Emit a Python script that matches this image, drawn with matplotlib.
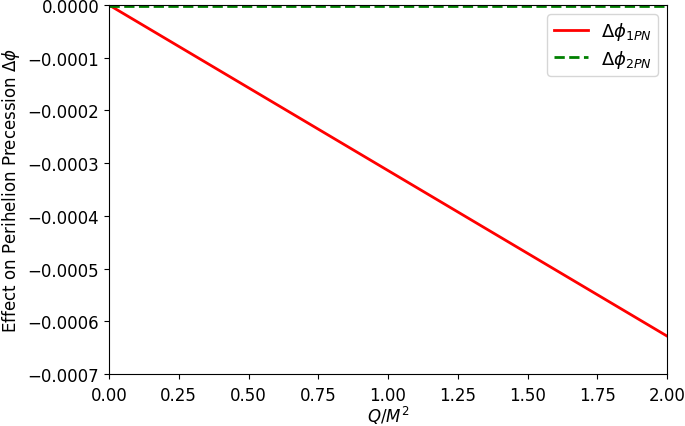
import matplotlib
matplotlib.use("Agg")
import matplotlib.pyplot as plt

q_over_m2 = [0.0, 0.5, 1.0, 1.5, 2.0]
dphi_1pn = [0.0, -0.000157, -0.000314, -0.000471, -0.000628]
dphi_2pn = [-0.0000015, -0.0000015, -0.0000015, -0.0000015, -0.0000015]

plt.rcParams['font.size'] = 12
fig = plt.figure(figsize=(6.85, 4.27), dpi=100)
ax = fig.add_axes([109/685, 1 - 375/427, (667-109)/685, (375-6)/427])
ax.plot(q_over_m2, dphi_1pn, color='red', lw=2, label=r'$\Delta\phi_{1PN}$')
ax.plot(q_over_m2, dphi_2pn, color='green', lw=2, ls='--', label=r'$\Delta\phi_{2PN}$')
ax.set_xlim(0, 2)
ax.set_ylim(-0.0007, 0)
ax.set_xticks([0, 0.25, 0.5, 0.75, 1.0, 1.25, 1.5, 1.75, 2.0])
ax.set_xticklabels(['0.00', '0.25', '0.50', '0.75', '1.00', '1.25', '1.50', '1.75', '2.00'])
yt = [-0.0007, -0.0006, -0.0005, -0.0004, -0.0003, -0.0002, -0.0001, 0.0]
ax.set_yticks(yt)
ax.set_yticklabels(['\u22120.0007', '\u22120.0006', '\u22120.0005', '\u22120.0004', '\u22120.0003', '\u22120.0002', '\u22120.0001', '0.0000'])
ax.tick_params(axis='x', pad=5)
ax.set_xlabel(r'$Q/M^2$', labelpad=0)
ax.set_ylabel(r'Effect on Perihelion Precession $\Delta\phi$')
ax.legend(loc='upper right', fontsize=13, handlelength=1.9, labelspacing=0.3,
          borderpad=0.35, handletextpad=0.7)
fig.savefig('out.png', dpi=100)
